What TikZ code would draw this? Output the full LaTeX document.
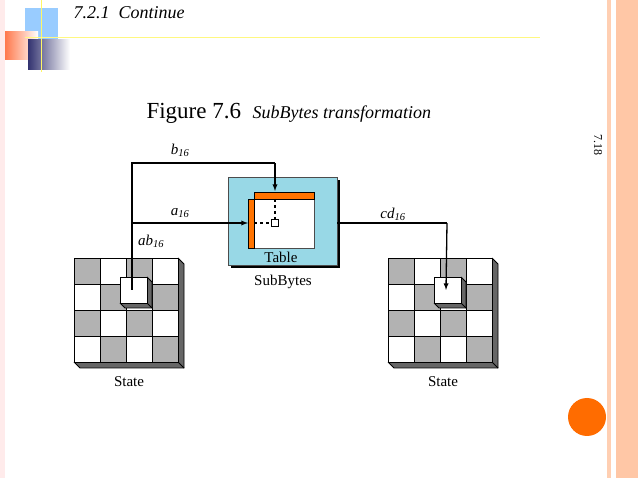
\documentclass[tikz,border=0pt]{standalone}
\usepackage{fontspec}
\setmainfont{Liberation Serif}
\definecolor{boxc}{RGB}{152,216,230}
\begin{document}
\begin{tikzpicture}[x=1pt,y=-1pt,
  lab/.style={font=\fontsize{15}{15}\selectfont},
  ilab/.style={font=\fontsize{15}{15}\selectfont\itshape},
  cubeline/.style={draw=black,line width=0.8pt},
  arr/.style={draw,line width=1.3pt,-latex}]
\useasboundingbox (0,0) rectangle (638,478);
\fill[white] (0,0) rectangle (638,478);
% slide decoration
\fill[white!80!red!40] (0,0) rectangle (5,478);
\fill[red!25!orange!30] (607,0) rectangle (611,478);
\fill[red!25!orange!35] (616,0) rectangle (638,478);
\fill[blue!50!cyan!40!white] (25,8) rectangle (58,40);
\shade[left color=red!50!orange!70, right color=white] (5,32) rectangle (38,60);
\shade[left color=blue!30!black!80, right color=white] (28,40) rectangle (70,70);
\draw[yellow!60,line width=1pt] (41,0) -- (41,72);
\draw[yellow!50,line width=1pt] (25,38) -- (540,38);
\node[anchor=west,font=\fontsize{18}{18}\selectfont\itshape] (sec) at (70,13) {7.2.1\ \ Continue};
\node[rotate=-90,font=\fontsize{12}{12}\selectfont] (pg) at (598,145) {7.18};
\fill[orange!85!red] (587,417) circle (19);
% title
\node[anchor=west] (title) at (143,113) {\fontsize{23}{23}\selectfont Figure 7.6\ \ \fontsize{18}{18}\selectfont\itshape SubBytes transformation};
% states
\foreach \ox/\cx/\nm in {74/132/L,388/446/R}{
  \fill[black!60] (\ox+104,258) -- (\ox+110,264) -- (\ox+110,368) -- (\ox+6,368) -- (\ox,362) -- (\ox+104,362) -- cycle;
  \draw[cubeline] (\ox+104,258) -- (\ox+110,264) -- (\ox+110,368) -- (\ox+6,368) -- (\ox,362);
  \draw[cubeline] (\ox+104,362) -- (\ox+110,368);
  \foreach \r in {0,...,3}{\foreach \c in {0,...,3}{
    \pgfmathtruncatemacro\g{mod(\r+\c,2)==0}
    \ifnum\g=1 \def\col{black!30}\else\def\col{white}\fi
    \filldraw[fill=\col,cubeline] (\ox+26*\c,258+26*\r) rectangle +(26,26);
  }}
  \fill[black!60] (\ox+73,277) -- (\ox+78,282) -- (\ox+78,308) -- (\ox+51,308) -- (\ox+46,303) -- (\ox+73,303) -- cycle;
  \draw[cubeline] (\ox+73,277) -- (\ox+78,282) -- (\ox+78,308) -- (\ox+51,308) -- (\ox+46,303);
  \draw[cubeline] (\ox+73,303) -- (\ox+78,308);
  \filldraw[fill=white,cubeline] (\ox+46,277) rectangle (\ox+73,303);
  \coordinate (c\nm) at (\cx,290);
  \node[lab] (s\nm) at (\ox+55,382) {State};
}
% SubBytes box
\fill[black] (231,180) rectangle (340,268);
\filldraw[fill=boxc,draw=black!70,line width=0.6pt] (228,177) rectangle (337,265);
\filldraw[fill=white,draw=black!70,line width=0.6pt] (254,192) rectangle (314,248);
\fill[orange!90!red] (254,192) rectangle (314,199);
\fill[orange!90!red] (248,199) rectangle (254,248);
\draw[line width=0.6pt] (254,192) rectangle (314,199) (248,199) rectangle (254,248);
\node[draw,fill=white,minimum size=7pt,inner sep=0pt,line width=0.7pt] (sq) at (275,223) {};
\draw[dashed,line width=1.2pt] (275,199) -- (sq.north) (254,223) -- (sq.west);
\node[lab] (tab) at (281,257) {Table};
\node[lab] (sb) at (283,282) {SubBytes};
\coordinate (top) at (275,191);
\coordinate (lft) at (248,223);
% connectors
\coordinate (k1) at (132,163);
\coordinate (k2) at (132,223);
\coordinate (k3) at (447,223);
\draw[line width=1.3pt] (cL) -- (k1) -- (275,163);
\draw[arr] (275,163) -- (top);
\draw[arr] (k2) -- (lft);
\draw[line width=1.3pt] (337,223) -- (k3);
\draw[arr] (k3) -- (cR);
\node[ilab] (b) at (180,150) {b\textsubscript{16}};
\node[ilab] (a) at (180,213) {a\textsubscript{16}};
\node[ilab] (ab) at (151,241) {ab\textsubscript{16}};
\node[ilab] (cd) at (393,214) {cd\textsubscript{16}};
\end{tikzpicture}
\end{document}
